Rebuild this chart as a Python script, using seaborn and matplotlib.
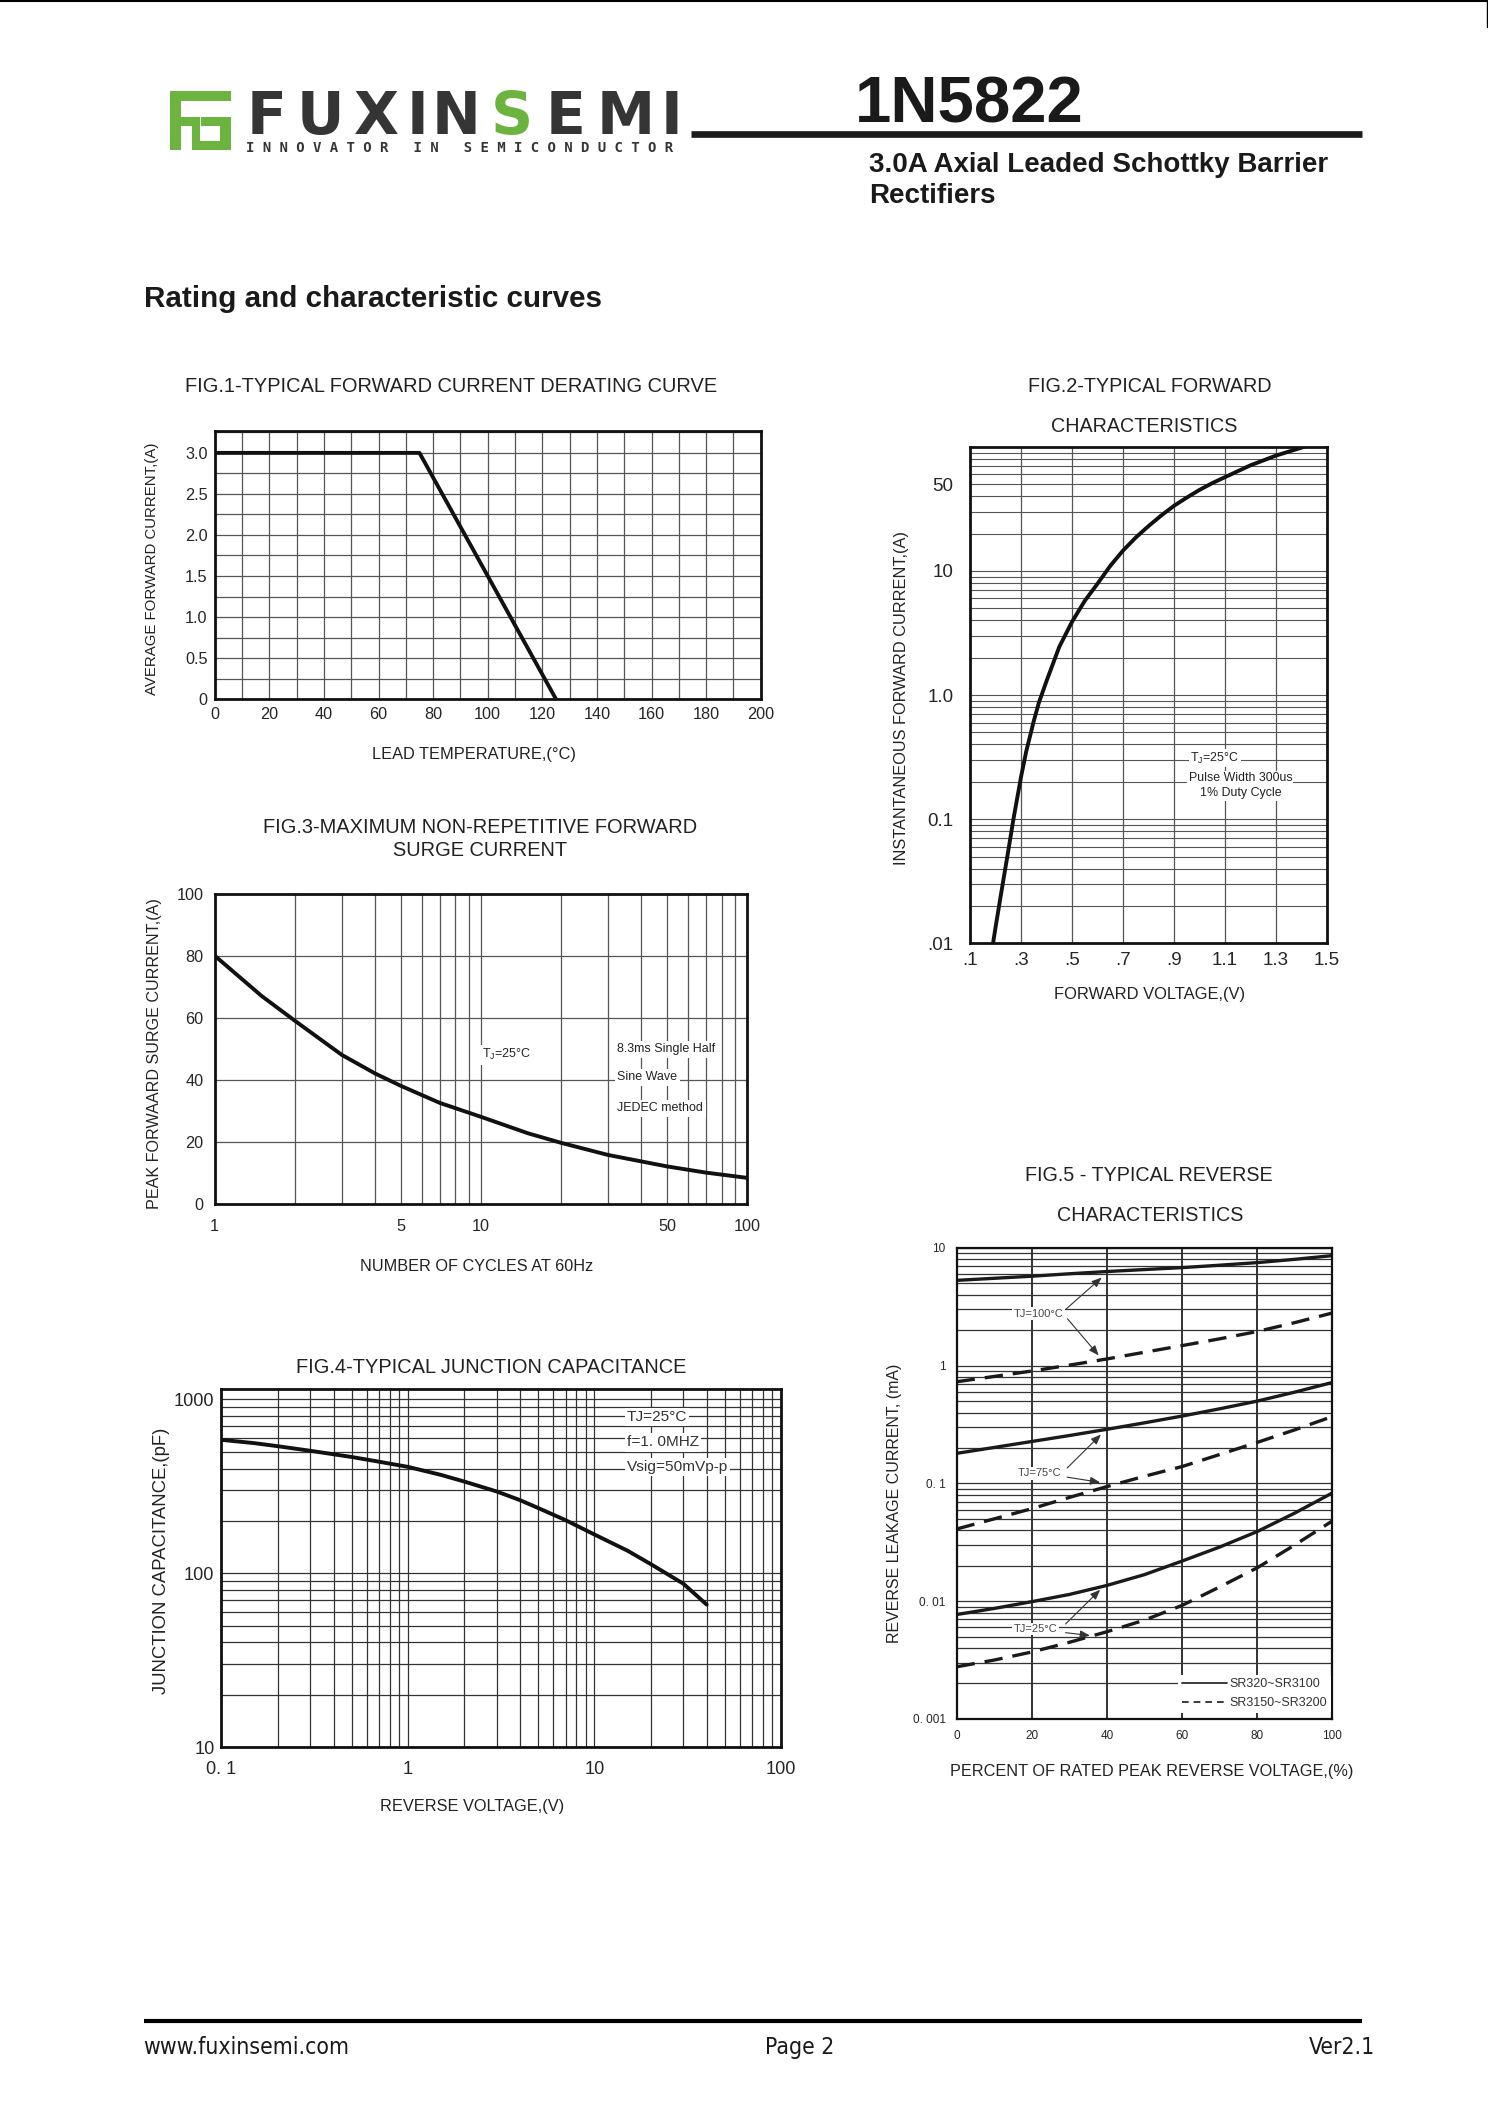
import numpy as np
import pandas as pd
import matplotlib
matplotlib.use("Agg")
import matplotlib.pyplot as plt
import seaborn as sns
from matplotlib.lines import Line2D
from matplotlib.patches import Rectangle
from matplotlib.ticker import FixedLocator, NullFormatter

# ---------------- data ----------------
fig1_temp = [0, 75, 125]
fig1_current = [3.0, 3.0, 0.0]
fig1_xticks = [0, 20, 40, 60, 80, 100, 120, 140, 160, 180, 200]
fig1_yticks = [0, 0.5, 1.0, 1.5, 2.0, 2.5, 3.0]
fig1_ylabels = ["0", "0.5", "1.0", "1.5", "2.0", "2.5", "3.0"]

fig2_voltage = [0.19, 0.20, 0.22, 0.25, 0.27, 0.30, 0.32, 0.35, 0.37, 0.40, 0.45, 0.50, 0.55,
                0.60, 0.65, 0.70, 0.75, 0.80, 0.85, 0.90, 0.95, 1.00, 1.05, 1.10, 1.20, 1.30, 1.41]
fig2_current = [0.01, 0.0135, 0.024, 0.056, 0.10, 0.22, 0.35, 0.62, 0.87, 1.3, 2.45, 3.9, 5.75,
                7.9, 11.0, 14.6, 18.6, 23, 28, 33.5, 39, 45, 51, 57, 71, 85, 100]
fig2_xticks = [0.1, 0.3, 0.5, 0.7, 0.9, 1.1, 1.3, 1.5]
fig2_xlabels = [".1", ".3", ".5", ".7", ".9", "1.1", "1.3", "1.5"]
fig2_yticks = [0.01, 0.1, 1.0, 10, 50]
fig2_ylabels = [".01", "0.1", "1.0", "10", "50"]

fig3_cycles = [1, 1.5, 2, 3, 4, 5, 7, 10, 15, 20, 30, 50, 70, 100]
fig3_surge = [80, 67, 59, 48, 42, 38, 32.5, 28, 22.7, 19.6, 15.7, 12, 10, 8.3]
fig3_xticks = [1, 5, 10, 50, 100]
fig3_xlabels = ["1", "5", "10", "50", "100"]
fig3_yticks = [0, 20, 40, 60, 80, 100]

fig4_voltage = [0.1, 0.15, 0.2, 0.3, 0.5, 0.7, 1, 1.5, 2, 3, 4, 5, 7, 10, 15, 20, 30, 40]
fig4_cap = [585, 560, 538, 506, 466, 438, 409, 368, 337, 295, 263, 237, 202, 167, 135, 113, 87, 66]
fig4_xticks = [0.1, 1, 10, 100]
fig4_xlabels = ["0. 1", "1", "10", "100"]
fig4_yticks = [10, 100, 1000]
fig4_ylabels = ["10", "100", "1000"]

fig5_pct = [0, 10, 20, 30, 40, 50, 60, 70, 80, 90, 100]
fig5_100_solid = [5.3, 5.52, 5.75, 6.03, 6.3, 6.55, 6.8, 7.13, 7.5, 8.0, 8.6]
fig5_100_dash = [0.73, 0.81, 0.9, 1.01, 1.14, 1.30, 1.48, 1.69, 1.95, 2.32, 2.8]
fig5_75_solid = [0.18, 0.202, 0.227, 0.255, 0.288, 0.327, 0.373, 0.43, 0.50, 0.596, 0.72]
fig5_75_dash = [0.041, 0.050, 0.061, 0.076, 0.094, 0.115, 0.139, 0.176, 0.223, 0.285, 0.37]
fig5_25_solid = [0.0077, 0.00867, 0.0099, 0.0114, 0.0136, 0.0168, 0.0219, 0.0288, 0.039, 0.056, 0.083]
fig5_25_dash = [0.00277, 0.00316, 0.0037, 0.00447, 0.0055, 0.0069, 0.0092, 0.0132, 0.0192, 0.030, 0.048]
fig5_xticks = [0, 20, 40, 60, 80, 100]
fig5_yticks = [0.001, 0.01, 0.1, 1, 10]
fig5_ylabels = ["0. 001", "0. 01", "0. 1", "1", "10"]
fig5_legend = ["SR320~SR3100", "SR3150~SR3200"]

# ---------------- fonts / theme ----------------
sns.set_theme(style="white")
ARIAL = "Liberation Sans"
plt.rcParams["font.family"] = [ARIAL, "DejaVu Sans"]
plt.rcParams["mathtext.default"] = "regular"
AF = [ARIAL, "DejaVu Sans"]

W, H = 1109.0, 1568.0
def rect(l, t, r, b):
    return [l / W, 1 - b / H, (r - l) / W, (b - t) / H]

fig = plt.figure(figsize=(14.88, 21.04), dpi=100)
page = fig.add_axes([0, 0, 1, 1])
page.set_xlim(0, W)
page.set_ylim(H, 0)
page.axis("off")

DARK = "#111111"
TXT = "#222222"
GREEN = "#6db33f"
LOGO_DARK = "#353535"

# ---------------- header ----------------
page.plot([0, W], [0.8, 0.8], color="black", lw=1.5)
page.plot([W - 1, W - 1], [0, 20], color="black", lw=1.0)

# logo icon (decorative)
ic = [(127, 68, 45, 7), (127, 68, 8, 44), (127, 87, 22, 7), (150, 87, 22, 7),
      (164, 87, 8, 25), (143, 105, 29, 7), (143, 94, 6, 18)]
for (x, y, w, h) in ic:
    page.add_patch(Rectangle((x, y), w, h, color=GREEN, lw=0))

letters = ["F", "U", "X", "I", "N", "S", "E", "M", "I"]
lw_rel = [1.0, 1.05, 1.1, 0.3, 1.05, 1.05, 1.0, 1.35, 0.3]
gap = 0.25
tot = sum(lw_rel) + gap * (len(letters) - 1)
unit = (505 - 183) / tot
xc = 183
for ch, wr in zip(letters, lw_rel):
    col = GREEN if ch == "S" else LOGO_DARK
    page.text(xc + wr * unit / 2, 100, ch, ha="center", va="baseline", fontsize=42,
              fontweight="bold", color=col, family=["DejaVu Sans"])
    xc += (wr + gap) * unit
page.text(183, 113.5, " ".join("INNOVATOR IN SEMICONDUCTOR"), ha="left", va="baseline",
          fontsize=10.1, fontweight="bold", color=LOGO_DARK, family=["DejaVu Sans Mono"])

page.text(637, 91, "1N5822", ha="left", va="baseline", fontsize=47,
          fontweight="bold", color="#1a1a1a", family=AF)
page.plot([515, 1015], [100, 100], color="#1a1a1a", lw=4.8, solid_capstyle="butt")
page.text(648, 128, "3.0A Axial Leaded Schottky Barrier", ha="left", va="baseline",
          fontsize=20, fontweight="bold", color="#1a1a1a", family=AF)
page.text(648, 151, "Rectifiers", ha="left", va="baseline",
          fontsize=20, fontweight="bold", color="#1a1a1a", family=AF)
page.text(107, 229, "Rating and characteristic curves", ha="left", va="baseline",
          fontsize=21.3, fontweight="bold", color="#1a1a1a", family=AF)

# ---------------- footer ----------------
page.plot([107, 1015], [1506, 1506], color="black", lw=3.0, solid_capstyle="butt")
for txt, x, ha in [("www.fuxinsemi.com", 107, "left"), ("Page 2", 596, "center"), ("Ver2.1", 1025, "right")]:
    page.text(x, 1531, txt, ha=ha, va="baseline", fontsize=16.5, color="#1a1a1a",
              family=["DejaVu Sans"], fontstretch="condensed")


def style_axes(ax, lw=2.0):
    ax.set_facecolor("white")
    for s in ax.spines.values():
        s.set_visible(True)
        s.set_linewidth(lw)
        s.set_color(DARK)
        s.set_zorder(5)
    ax.tick_params(which="both", length=0)
    ax.set_axisbelow(True)
    ax.set_xlabel("")
    ax.set_ylabel("")


# ---------------- FIG 1 ----------------
ax1 = fig.add_axes(rect(160, 321, 567, 521))
sns.lineplot(x=fig1_temp, y=fig1_current, ax=ax1, color=DARK, lw=2.8)
ax1.set_xlim(0, 200)
ax1.set_ylim(0, 3.27)
ax1.set_xticks(fig1_xticks, labels=[str(v) for v in fig1_xticks], fontsize=11.7, family=AF)
ax1.set_yticks(fig1_yticks, labels=fig1_ylabels, fontsize=11.7, family=AF)
ax1.xaxis.set_minor_locator(FixedLocator(np.arange(10, 200, 20)))
ax1.yaxis.set_minor_locator(FixedLocator(np.arange(0.25, 3.3, 0.5)))
ax1.grid(which="both", color="#555555", lw=0.9)
style_axes(ax1)
ax1.tick_params(axis="x", pad=6)
ax1.tick_params(axis="y", pad=5)
page.text(336, 292, "FIG.1-TYPICAL FORWARD CURRENT DERATING CURVE", ha="center", va="baseline",
          fontsize=14.4, family=AF, color=TXT)
page.text(113, 424, "AVERAGE FORWARD CURRENT,(A)", rotation=90, ha="center", va="center",
          fontsize=10.8, family=AF, color=TXT)
page.text(353, 562, "LEAD TEMPERATURE,(°C)", ha="center", va="center",
          fontsize=11.8, family=AF, color=TXT)

# ---------------- FIG 2 ----------------
ax2 = fig.add_axes(rect(723, 333, 989, 703))
ax2.set_yscale("log")
sns.lineplot(x=fig2_voltage, y=fig2_current, ax=ax2, color=DARK, lw=2.8)
ax2.set_xlim(0.1, 1.5)
ax2.set_ylim(0.01, 100)
ax2.set_xticks(fig2_xticks, labels=fig2_xlabels, fontsize=13.5, family=AF)
ax2.set_yticks(fig2_yticks, labels=fig2_ylabels, fontsize=13.5, family=AF)
minor2 = [k * d for d in [0.01, 0.1, 1, 10] for k in range(2, 10)]
ax2.yaxis.set_minor_locator(FixedLocator(minor2))
ax2.yaxis.set_minor_formatter(NullFormatter())
ax2.xaxis.set_minor_locator(FixedLocator([]))
ax2.grid(which="major", axis="x", color="#555555", lw=0.9)
ax2.grid(which="both", axis="y", color="#555555", lw=0.8)
style_axes(ax2)
ax2.tick_params(axis="x", pad=6)
ax2.tick_params(axis="y", pad=12)
bb = dict(facecolor="white", edgecolor="none", pad=1.0)
ax2.text(1.06, 0.31, "T$_\\mathregular{J}$=25°C", ha="center", va="center", fontsize=8.9, family=AF,
         color=TXT, bbox=bb)
ax2.text(1.16, 0.214, "Pulse Width 300us", ha="center", va="center", fontsize=8.9, family=AF,
         color=TXT, bbox=bb)
ax2.text(1.16, 0.162, "1% Duty Cycle", ha="center", va="center", fontsize=8.9, family=AF,
         color=TXT, bbox=bb)
page.text(857, 292, "FIG.2-TYPICAL FORWARD", ha="center", va="baseline", fontsize=14.2, family=AF, color=TXT)
page.text(853, 322, "CHARACTERISTICS", ha="center", va="baseline", fontsize=14.2, family=AF, color=TXT)
page.text(672, 520, "INSTANTANEOUS FORWARD CURRENT,(A)", rotation=90, ha="center", va="center",
          fontsize=11.8, family=AF, color=TXT)
page.text(857, 741, "FORWARD VOLTAGE,(V)", ha="center", va="center", fontsize=11.9, family=AF, color=TXT)

# ---------------- FIG 3 ----------------
ax3 = fig.add_axes(rect(160, 666, 557, 897))
ax3.set_xscale("log")
sns.lineplot(x=fig3_cycles, y=fig3_surge, ax=ax3, color=DARK, lw=2.8)
ax3.set_xlim(1, 100)
ax3.set_ylim(0, 100)
ax3.set_xticks(fig3_xticks, labels=fig3_xlabels, fontsize=11.7, family=AF)
ax3.set_yticks(fig3_yticks, labels=[str(v) for v in fig3_yticks], fontsize=11.7, family=AF)
minor3 = [k * d for d in [1, 10] for k in range(2, 10)]
ax3.xaxis.set_minor_locator(FixedLocator(minor3))
ax3.xaxis.set_minor_formatter(NullFormatter())
ax3.grid(which="both", axis="x", color="#555555", lw=0.9)
ax3.grid(which="major", axis="y", color="#555555", lw=0.9)
style_axes(ax3)
ax3.tick_params(axis="x", pad=11)
ax3.tick_params(axis="y", pad=8)
bb3 = dict(facecolor="white", edgecolor="none", pad=2.0)
ax3.text(12.5, 48, "T$_\\mathregular{J}$=25°C", ha="center", va="center", fontsize=9.0,
         family=AF, color=TXT, bbox=bb3)
for txt, yv in [("8.3ms Single Half", 49.8), ("Sine Wave", 40.7), ("JEDEC method", 30.7)]:
    ax3.text(32.5, yv, txt, ha="left", va="center", fontsize=9.0, family=AF,
             color=TXT, bbox=bb3)
page.text(358, 621, "FIG.3-MAXIMUM NON-REPETITIVE FORWARD", ha="center", va="baseline",
          fontsize=14.4, family=AF, color=TXT)
page.text(358, 638, "SURGE CURRENT", ha="center", va="baseline", fontsize=14.4, family=AF, color=TXT)
page.text(115, 785, "PEAK FORWAARD SURGE CURRENT,(A)", rotation=90, ha="center", va="center",
          fontsize=11.6, family=AF, color=TXT)
page.text(355, 944, "NUMBER OF CYCLES AT 60Hz", ha="center", va="center",
          fontsize=11.7, family=AF, color=TXT)

# ---------------- FIG 4 ----------------
ax4 = fig.add_axes(rect(165, 1035, 582, 1302))
ax4.set_xscale("log")
ax4.set_yscale("log")
sns.lineplot(x=fig4_voltage, y=fig4_cap, ax=ax4, color=DARK, lw=2.8)
ax4.set_xlim(0.1, 100)
ax4.set_ylim(10, 1150)
ax4.set_xticks(fig4_xticks, labels=fig4_xlabels, fontsize=13.1, family=AF)
ax4.set_yticks(fig4_yticks, labels=fig4_ylabels, fontsize=13.1, family=AF)
minor4x = [k * d for d in [0.1, 1, 10] for k in range(2, 10)]
minor4y = [k * d for d in [10, 100] for k in range(2, 10)]
ax4.xaxis.set_minor_locator(FixedLocator(minor4x))
ax4.yaxis.set_minor_locator(FixedLocator(minor4y))
ax4.xaxis.set_minor_formatter(NullFormatter())
ax4.yaxis.set_minor_formatter(NullFormatter())
ax4.grid(which="both", color="#333333", lw=0.9)
style_axes(ax4)
ax4.tick_params(axis="x", pad=10)
ax4.tick_params(axis="y", pad=5)
bb4 = dict(facecolor="white", edgecolor="none", pad=1.5)
for txt, yv in [("TJ=25°C", 791), ("f=1. 0MHZ", 565), ("Vsig=50mVp-p", 410)]:
    ax4.text(14.9, yv, txt, ha="left", va="center", fontsize=11.1, family=AF,
             color="#333", bbox=bb4)
page.text(366, 1023, "FIG.4-TYPICAL JUNCTION CAPACITANCE", ha="center", va="baseline",
          fontsize=14.4, family=AF, color=TXT)
page.text(120, 1163, "JUNCTION CAPACITANCE,(pF)", rotation=90, ha="center", va="center",
          fontsize=13.3, family=AF, color=TXT)
page.text(352, 1346, "REVERSE VOLTAGE,(V)", ha="center", va="center",
          fontsize=11.8, family=AF, color=TXT)

# ---------------- FIG 5 ----------------
ax5 = fig.add_axes(rect(713, 930, 993, 1281))
ax5.set_yscale("log")
DASH = (0, (5.5, 3.0))
for ys, ls in [(fig5_100_solid, "-"), (fig5_100_dash, DASH), (fig5_75_solid, "-"),
               (fig5_75_dash, DASH), (fig5_25_solid, "-"), (fig5_25_dash, DASH)]:
    sns.lineplot(x=fig5_pct, y=ys, ax=ax5, color="#1a1a1a", lw=2.4, linestyle=ls)
ax5.set_xlim(0, 100)
ax5.set_ylim(0.001, 10)
ax5.set_xticks(fig5_xticks, labels=[str(v) for v in fig5_xticks], fontsize=8.5, family=AF)
ax5.set_yticks(fig5_yticks, labels=fig5_ylabels, fontsize=8.5, family=AF)
minor5 = [k * d for d in [0.001, 0.01, 0.1, 1] for k in range(2, 10)]
ax5.yaxis.set_minor_locator(FixedLocator(minor5))
ax5.yaxis.set_minor_formatter(NullFormatter())
ax5.xaxis.set_minor_locator(FixedLocator([]))
ax5.grid(which="major", axis="x", color="#333333", lw=1.4)
ax5.grid(which="both", axis="y", color="#333333", lw=0.9)
style_axes(ax5, lw=1.6)
ax5.tick_params(axis="x", pad=8)
ax5.tick_params(axis="y", pad=8)
bb5 = dict(facecolor="white", edgecolor="none", pad=1.0)
ann5 = [("TJ=100°C", 21.8, 2.77, [((29.0, 3.0), (38.6, 5.6)), ((29.5, 2.5), (37.8, 1.22))]),
        ("TJ=75°C", 22.0, 0.122, [((29.4, 0.135), (38.4, 0.26)), ((29.4, 0.113), (38.2, 0.102))]),
        ("TJ=25°C", 21.0, 0.0058, [((29.0, 0.0064), (38.2, 0.0125)), ((29.0, 0.0054), (35.5, 0.0051))])]
for txt, tx, ty, arrows in ann5:
    ax5.text(tx, ty, txt, ha="center", va="center", fontsize=8, family=AF, color="#444", bbox=bb5, zorder=4)
    for (p0, p1) in arrows:
        ax5.annotate("", xy=p1, xytext=p0,
                     arrowprops=dict(arrowstyle="-|>,head_length=0.5,head_width=0.2",
                                     color="#333", lw=0.8, shrinkA=0, shrinkB=0), zorder=4)
handles = [Line2D([], [], color="#1a1a1a", lw=1.2, linestyle="-"),
           Line2D([], [], color="#1a1a1a", lw=1.2, linestyle=(0, (4, 3)))]
leg = ax5.legend(handles, fig5_legend, loc="lower right", bbox_to_anchor=(1.0, 0.01), frameon=True,
                 handlelength=3.6, handletextpad=0.2, borderpad=0.3,
                 labelspacing=0.55, borderaxespad=0.1, prop={"family": AF, "size": 9})
leg.get_frame().set_facecolor("white")
leg.get_frame().set_edgecolor("none")
leg.get_frame().set_alpha(1)
for t in leg.get_texts():
    t.set_color("#333")
page.text(856, 880, "FIG.5 - TYPICAL REVERSE", ha="center", va="baseline", fontsize=14.2, family=AF, color=TXT)
page.text(857, 910, "CHARACTERISTICS", ha="center", va="baseline", fontsize=14.2, family=AF, color=TXT)
page.text(667, 1120, "REVERSE LEAKAGE CURRENT, (mA)", rotation=90, ha="center", va="center",
          fontsize=11.5, family=AF, color=TXT)
page.text(858, 1320, "PERCENT OF RATED PEAK REVERSE VOLTAGE,(%)", ha="center", va="center",
          fontsize=11.7, family=AF, color=TXT)

fig.savefig("out.png", dpi=100, facecolor="white")
